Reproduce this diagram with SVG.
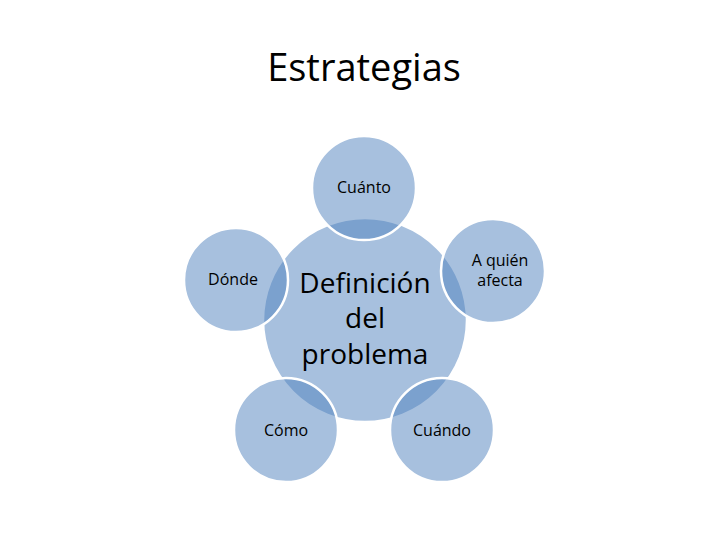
<svg xmlns="http://www.w3.org/2000/svg" width="728" height="546" viewBox="0 0 728 546">
<style>
.c{fill:#4f81bd;fill-opacity:0.5;stroke:#fff;stroke-width:2.5}
.t{font-family:"Open Sans","Liberation Sans",sans-serif;fill:#000;text-anchor:middle}
.s{font-size:16px}
</style>
<rect width="728" height="546" fill="#fff"/>
<text class="t" x="364" y="81" font-size="38">Estrategias</text>
<g id="center"><circle class="c" cx="365" cy="320" r="102"/>
<text class="t" x="365" y="293" font-size="28">Definición</text>
<text class="t" x="365" y="328" font-size="28">del</text>
<text class="t" x="365" y="364" font-size="28">problema</text></g>
<g id="cuanto"><circle class="c" cx="364" cy="188" r="52"/><text class="t s" x="364" y="193">Cuánto</text></g>
<g id="aquien"><circle class="c" cx="493" cy="271" r="52"/><text class="t s" x="500" y="266">A quién</text><text class="t s" x="500" y="286">afecta</text></g>
<g id="cuando"><circle class="c" cx="442" cy="430" r="52"/><text class="t s" x="442" y="436">Cuándo</text></g>
<g id="como"><circle class="c" cx="286" cy="430" r="52"/><text class="t s" x="286" y="436">Cómo</text></g>
<g id="donde"><circle class="c" cx="236" cy="280" r="52"/><text class="t s" x="233" y="285">Dónde</text></g>
<g id="connectors"/>
</svg>
